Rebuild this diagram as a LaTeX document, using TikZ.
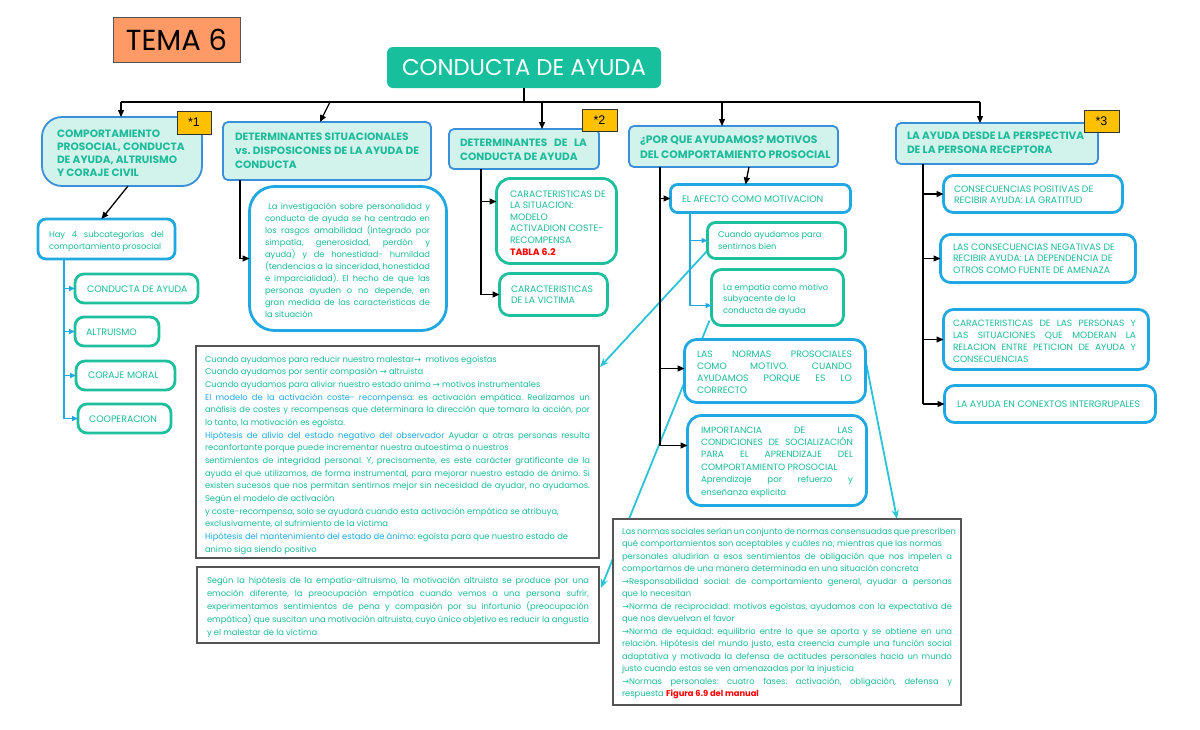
\documentclass[tikz,border=0pt]{standalone}
\usepackage{fontspec}
\setmainfont{Poppins}
\newfontfamily\arrowfont{DejaVu Sans}
\newfontfamily\tagfont{Liberation Sans}
\usetikzlibrary{arrows.meta,backgrounds}
\frenchspacing
\definecolor{tealtxt}{HTML}{1DBB9A}
\definecolor{bluetxt}{HTML}{1EA9E6}
\definecolor{hdrfill}{HTML}{D2F2EC}
\definecolor{hdrline}{HTML}{3A8FD8}
\definecolor{bline}{HTML}{1FA8E2}
\definecolor{gline}{HTML}{1DBF9C}
\definecolor{cyanl}{HTML}{2BC3D6}
\definecolor{temac}{HTML}{FF9966}
\definecolor{tagc}{HTML}{FFC000}
\definecolor{titlec}{HTML}{17BF9C}
\definecolor{redt}{HTML}{FF0000}
\definecolor{boxgray}{HTML}{555555}
\newcommand\rarr{{\arrowfont →}}
\newcommand\blu[1]{\textcolor{bluetxt}{#1}}
\newcommand\J[1]{\hbox to \hsize{#1}}
\newcommand\R[1]{\hbox{#1}}
\newcommand\blk[4]{\vtop{\hsize=#1\fontsize{#2}{#3}\selectfont\frenchspacing #4}}
\tikzset{
  every node/.style={inner sep=0pt, outer sep=0pt},
  hdr/.style={draw=hdrline, line width=1.8pt, fill=hdrfill, rounded corners=5pt},
  bbox/.style={draw=bline, line width=2.8pt, fill=white, rounded corners=10pt},
  gbox/.style={draw=gline, line width=2.8pt, fill=white, rounded corners=9pt},
  tbox/.style={draw=boxgray, line width=1.4pt, fill=white},
  tagbox/.style={draw=black!80, line width=0.9pt, fill=tagc, font=\tagfont\fontsize{12.5}{12.5}\selectfont},
  txt/.style={anchor=base west, text=tealtxt},
  hdrtxt/.style={anchor=base west, text=tealtxt, font=\bfseries},
  plain/.style={line width=1.3pt, draw=black},
  conn/.style={line width=1.3pt, draw=black, -{Triangle[length=7pt,width=6pt]}},
  bplain/.style={line width=1.3pt, draw=bline},
  bconn/.style={line width=1.3pt, draw=bline, -{Triangle[length=6pt,width=5pt]}},
  cyanlink/.style={line width=1.8pt, draw=cyanl, -{Stealth[length=9pt,width=7pt]}},
}
\begin{document}
\begin{tikzpicture}[x=1pt,y=-1pt]
\useasboundingbox (0,0) rectangle (1200,729);

% title & tema
\node[draw=boxgray, line width=1pt, fill=temac, minimum width=127pt, minimum height=45pt,
  font=\fontsize{29}{29}\selectfont] (tema) at (176.5,39.5) {TEMA 6};
\node[fill=titlec, rounded corners=6pt, minimum width=274pt, minimum height=41pt,
  text=white, font=\fontsize{22.8}{23}\selectfont] (title) at (524,67.5) {CONDUCTA DE AYUDA};

% header boxes
\node[hdr, rounded corners=20pt, minimum width=160pt, minimum height=69pt] (box1) at (122,151.5) {};
\node[hdr, minimum width=208pt, minimum height=58pt] (box2) at (327,151) {};
\node[hdr, minimum width=150pt, minimum height=40pt] (box3) at (524,149) {};
\node[hdr, minimum width=209pt, minimum height=41pt] (box4) at (733.5,146.5) {};
\node[hdr, minimum width=202pt, minimum height=41pt] (box5) at (997,143.5) {};
\node[tagbox, minimum width=34pt, minimum height=23pt] (tag1) at (194,122.5) {*1};
\node[tagbox, minimum width=35pt, minimum height=22pt] (tag2) at (599.5,120) {*2};
\node[tagbox, minimum width=35pt, minimum height=22pt] (tag3) at (1101.5,121) {*3};

\node[hdrtxt] (h1) at (57,137) {\blk{150pt}{10.6}{13}{\R{COMPORTAMIENTO}\R{PROSOCIAL, CONDUCTA}\R{DE AYUDA, ALTRUISMO}\R{Y CORAJE CIVIL}}};
\node[hdrtxt] (h2) at (235,140) {\blk{184pt}{10.6}{14}{\R{DETERMINANTES SITUACIONALES}\J{vs. DISPOSICONES DE LA AYUDA DE}\R{CONDUCTA}}};
\node[hdrtxt] (h3) at (460,146) {\blk{127pt}{10.6}{14.5}{\J{DETERMINANTES DE LA}\R{CONDUCTA DE AYUDA}}};
\node[hdrtxt] (h4) at (640,143) {\blk{190pt}{10.8}{15}{\R{¿POR QUE AYUDAMOS? MOTIVOS}\R{DEL COMPORTAMIENTO PROSOCIAL}}};
\node[hdrtxt] (h5) at (907,139) {\blk{180pt}{10.6}{14}{\R{LA AYUDA DESDE LA PERSPECTIVA}\R{DE LA PERSONA RECEPTORA}}};

% left column
\node[bbox, rounded corners=8pt, minimum width=137pt, minimum height=40pt] (hay) at (106.5,239) {};
\node[txt] (hayt) at (49,237) {\blk{115pt}{8.35}{12}{\J{Hay 4 subcategorías del}\R{comportamiento prosocial}}};
\node[gbox, minimum width=123pt, minimum height=29pt] (cda) at (136.5,288.5) {};
\node[gbox, minimum width=84pt, minimum height=29pt] (altr) at (117,331.5) {};
\node[gbox, minimum width=99pt, minimum height=29pt] (cor) at (125.5,375.5) {};
\node[gbox, minimum width=93pt, minimum height=29pt] (coop) at (124.5,418.5) {};
\node[txt, font=\fontsize{9.4}{10}\selectfont] (cdat) at (87,292) {CONDUCTA DE AYUDA};
\node[txt, font=\fontsize{9.4}{10}\selectfont] (altrt) at (86,335) {ALTRUISMO};
\node[txt, font=\fontsize{9.4}{10}\selectfont] (cort) at (88,378) {CORAJE MORAL};
\node[txt, font=\fontsize{9.4}{10}\selectfont] (coopt) at (89,422) {COOPERACION};

% investigacion
\node[bbox, rounded corners=25pt, minimum width=197pt, minimum height=144pt] (inv) at (348,258.5) {};
\node[txt] (invt) at (265,209) {\blk{165pt}{8.3}{12.1}{%
\J{\ La investigación sobre personalidad y}
\J{conducta de ayuda se ha centrado en}
\J{los rasgos amabilidad (integrado por}
\J{simpatía, generosidad, perdón y}
\J{ayuda) y de honestidad- humildad}
\J{(tendencias a la sinceridad, honestidad}
\J{e imparcialidad). El hecho de que las}
\J{personas ayuden o no depende, en}
\J{gran medida de las características de}
\R{la situación}}};

% determinantes children
\node[gbox, rounded corners=14pt, minimum width=120pt, minimum height=85pt] (sit) at (556.5,221) {};
\node[txt] (sitt) at (510,197) {\blk{110pt}{9.3}{11.6}{\R{CARACTERISTICAS DE}\R{LA SITUACION:}\R{MODELO}\R{ACTIVADION COSTE-}\R{RECOMPENSA}\R{\textcolor{redt}{\bfseries TABLA 6.2}}}};
\node[gbox, rounded corners=10pt, minimum width=108pt, minimum height=42pt] (vic) at (553.5,294.5) {};
\node[txt] (vict) at (511,292) {\blk{95pt}{9.3}{11.5}{\R{CARACTERISTICAS}\R{DE LA VICTIMA}}};

% por que ayudamos children
\node[bbox, rounded corners=7pt, minimum width=180pt, minimum height=28pt] (afe) at (760.5,198.5) {};
\node[txt, font=\fontsize{9.4}{10}\selectfont] (afet) at (682,202) {EL AFECTO COMO MOTIVACION};
\node[gbox, rounded corners=8pt, minimum width=138pt, minimum height=36pt] (cua) at (776.5,240.5) {};
\node[txt] (cuat) at (718,237) {\blk{120pt}{8.35}{12}{\R{Cuando ayudamos para}\R{sentirnos bien}}};
\node[gbox, rounded corners=10pt, minimum width=132pt, minimum height=56pt] (emp) at (777.5,297.5) {};
\node[txt] (empt) at (723,290) {\blk{115pt}{8.35}{11.7}{\R{La empatía como motivo}\R{subyacente de la}\R{conducta de ayuda}}};
\node[bbox, rounded corners=12pt, minimum width=181pt, minimum height=63pt] (nor) at (775,371) {};
\node[txt] (nort) at (697,357) {\blk{155pt}{9.3}{12}{\J{LAS NORMAS PROSOCIALES}\J{COMO MOTIVO. CUANDO}\J{AYUDAMOS PORQUE ES LO}\R{CORRECTO}}};
\node[bbox, rounded corners=14pt, minimum width=179pt, minimum height=90pt] (imp) at (777,460.5) {};
\node[txt] (impt) at (701,433) {\blk{152pt}{9.1}{12.4}{\J{IMPORTANCIA DE LAS}\J{CONDICIONES DE SOCIALIZACIÓN}\J{PARA EL APRENDIZAJE DEL}\R{COMPORTAMIENTO PROSOCIAL}\J{\fontsize{8.6}{12.4}\selectfont Aprendizaje por refuerzo y}\R{\fontsize{8.6}{12.4}\selectfont enseñanza explicita}}};

% right column
\node[bbox, minimum width=179pt, minimum height=37pt] (pos) at (1033,194) {};
\node[txt] (post) at (954,192) {\blk{170pt}{9.3}{11.5}{\R{CONSECUENCIAS POSITIVAS DE}\R{RECIBIR AYUDA: LA GRATITUD}}};
\node[bbox, minimum width=195pt, minimum height=48pt] (neg) at (1038,258.5) {};
\node[txt] (negt) at (953,250) {\blk{185pt}{9.3}{11.5}{\R{LAS CONSECUENCIAS NEGATIVAS DE}\R{RECIBIR AYUDA: LA DEPENDENCIA DE}\R{OTROS COMO FUENTE DE AMENAZA}}};
\node[bbox, minimum width=205pt, minimum height=60pt] (car) at (1046,339.5) {};
\node[txt] (cart) at (953,326) {\blk{183pt}{9.1}{12}{\J{CARACTERISTICAS DE LAS PERSONAS Y}\J{LAS SITUACIONES QUE MODERAN LA}\J{RELACION ENTRE PETICION DE AYUDA Y}\R{CONSECUENCIAS}}};
\node[bbox, minimum width=211pt, minimum height=37pt] (con) at (1050,404) {};
\node[txt, font=\fontsize{9.4}{10}\selectfont] (cont) at (957,407) {LA AYUDA EN CONEXTOS INTERGRUPALES};

% text boxes
\node[tbox, minimum width=403pt, minimum height=212pt] (txt1box) at (397.5,452) {};
\node[txt] (txt1) at (205,362) {\blk{385pt}{8.35}{12.67}{%
\R{Cuando ayudamos para reducir nuestro malestar\rarr\ \ motivos egoístas}
\R{Cuando ayudamos por sentir compasión \rarr\ altruista}
\R{Cuando ayudamos para aliviar nuestro estado animo \rarr\ motivos instrumentales}
\J{\blu{El modelo de la activación coste- recompensa:} es activación empática. Realizamos un}
\J{análisis de costes y recompensas que determinara la dirección que tomara la acción, por}
\R{lo tanto, la motivación es egoísta.}
\J{\blu{Hipótesis de alivio del estado negativo del observador} Ayudar a otras personas resulta}
\R{reconfortante porque puede incrementar nuestra autoestima o nuestros}
\J{sentimientos de integridad personal. Y, precisamente, es este carácter gratificante de la}
\J{ayuda el que utilizamos, de forma instrumental, para mejorar nuestro estado de ánimo. Si}
\J{existen sucesos que nos permitan sentirnos mejor sin necesidad de ayudar, no ayudamos.}
\R{Según el modelo de activación}
\R{y coste-recompensa, solo se ayudará cuando esta activación empática se atribuya,}
\R{exclusivamente, al sufrimiento de la víctima}
\R{\blu{Hipótesis del mantenimiento del estado de ánimo:} egoísta para que nuestro estado de}
\R{animo siga siendo positivo}}};

\node[tbox, minimum width=402pt, minimum height=76pt] (segbox) at (398,605) {};
\node[txt] (seg) at (207,583) {\blk{382pt}{8.35}{13}{%
\J{Según la hipótesis de la empatía-altruismo, la motivación altruista se produce por una}
\J{emoción diferente, la preocupación empática cuando vemos a una persona sufrir,}
\J{experimentamos sentimientos de pena y compasión por su infortunio (preocupación}
\J{empática) que suscitan una motivación altruista, cuyo único objetivo es reducir la angustia}
\R{y el malestar de la víctima}}};

\node[tbox, minimum width=348pt, minimum height=186pt] (txt3box) at (787,612) {};
\node[txt] (txt3) at (622,534) {\blk{330pt}{8.35}{12.5}{%
\J{Las normas sociales serían un conjunto de normas consensuadas que prescriben}
\R{qué comportamientos son aceptables y cuáles no; mientras que las normas}
\J{personales aludirían a esos sentimientos de obligación que nos impelen a}
\R{comportarnos de una manera determinada en una situación concreta}
\J{\rarr Responsabilidad social: de comportamiento general, ayudar a personas}
\R{que lo necesitan}
\J{\rarr Norma de reciprocidad: motivos egoístas, ayudamos con la expectativa de}
\R{que nos devuelvan el favor}
\J{\rarr Norma de equidad: equilibrio entre lo que se aporta y se obtiene en una}
\J{relación. Hipótesis del mundo justo, esta creencia cumple una función social}
\J{adaptativa y motivada la defensa de actitudes personales hacia un mundo}
\R{justo cuando estas se ven amenazadas por la injusticia}
\J{\rarr Normas personales: cuatro fases: activación, obligación, defensa y}
\R{respuesta \textcolor{redt}{\bfseries Figura 6.9 del manual}}}};

% main trunk
\coordinate (tL) at (121,102);
\coordinate (tR) at (980,102);
\coordinate (t2) at (330,102);
\coordinate (t3) at (542,102);
\coordinate (t4) at (722,102);
\draw[plain] (title.south) -- (title.south |- tL);
\draw[plain] (tL) -- (tR);
\draw[conn] (tL) -- (tL |- box1.north);
\draw[conn] (t2) -- ([xshift=-7pt]box2.north);
\draw[conn] (t3) -- (t3 |- box3.north);
\draw[conn] (t4) -- (t4 |- box4.north);
\draw[conn] (tR) -- (tR |- box5.north);

% box1 -> hay -> subcategories
\draw[conn] ([xshift=6pt]box1.south) -- ([xshift=-5pt]hay.north);
\coordinate (hx) at (64,0);
\draw[bplain] (hay.south -| hx) -- (hx |- coop.west);
\foreach \n in {cda,altr,cor,coop} \draw[bconn] (hx |- \n.west) -- (\n.west);

% box2 -> investigacion
\coordinate (b2x) at (240,0);
\draw[conn] (box2.south -| b2x) |- (inv.west);

% box3 -> sit, vic
\coordinate (b3x) at (481,0);
\coordinate (sa) at ([yshift=-23pt]sit.north west);
\draw[plain] (box3.south -| b3x) -- (b3x |- vic.west);
\draw[conn] (b3x |- sa) -- (sa);
\draw[conn] (b3x |- vic.west) -- (vic.west);

% box4 -> children
\draw[conn] ([xshift=15.5pt]box4.south) -- ([xshift=-15pt]afe.north);
\coordinate (b4x) at (660,0);
\coordinate (na) at ([yshift=-29pt]nor.north west);
\coordinate (ia) at ([yshift=-30pt]imp.north west);
\draw[plain] (box4.south -| b4x) -- (b4x |- ia);
\draw[conn] (b4x |- afe.west) -- (afe.west);
\draw[conn] (b4x |- na) -- (na);
\draw[conn] (b4x |- ia) -- (ia);

% afecto branch
\coordinate (ax) at (690,0);
\coordinate (ea) at ([yshift=-36pt]emp.north west);
\draw[bplain] (afe.south -| ax) -- (ax |- ea);
\draw[bconn] (ax |- cua.west) -- (cua.west);
\draw[bconn] (ax |- ea) -- (ea);

% box5 -> children
\coordinate (b5x) at (923,0);
\draw[plain] (box5.south -| b5x) -- (b5x |- con.west);
\foreach \n in {pos,neg,car,con} \draw[conn] (b5x |- \n.west) -- (\n.west);

% background: page and cyan links (behind the boxes)
\begin{pgfonlayer}{background}
\fill[white] (0,0) rectangle (1200,729);
\draw[cyanlink] ([yshift=8pt]cua.south west) -- ([xshift=1pt,yshift=-21pt]txt1box.north east);
\draw[cyanlink] ([xshift=-2pt,yshift=5pt]emp.south west) -- ([xshift=2pt,yshift=-21pt]segbox.north east);
\draw[cyanlink] ([yshift=11pt]nor.east) -- ([xshift=-64pt]txt3box.north east);
\end{pgfonlayer}
\end{tikzpicture}
\end{document}
